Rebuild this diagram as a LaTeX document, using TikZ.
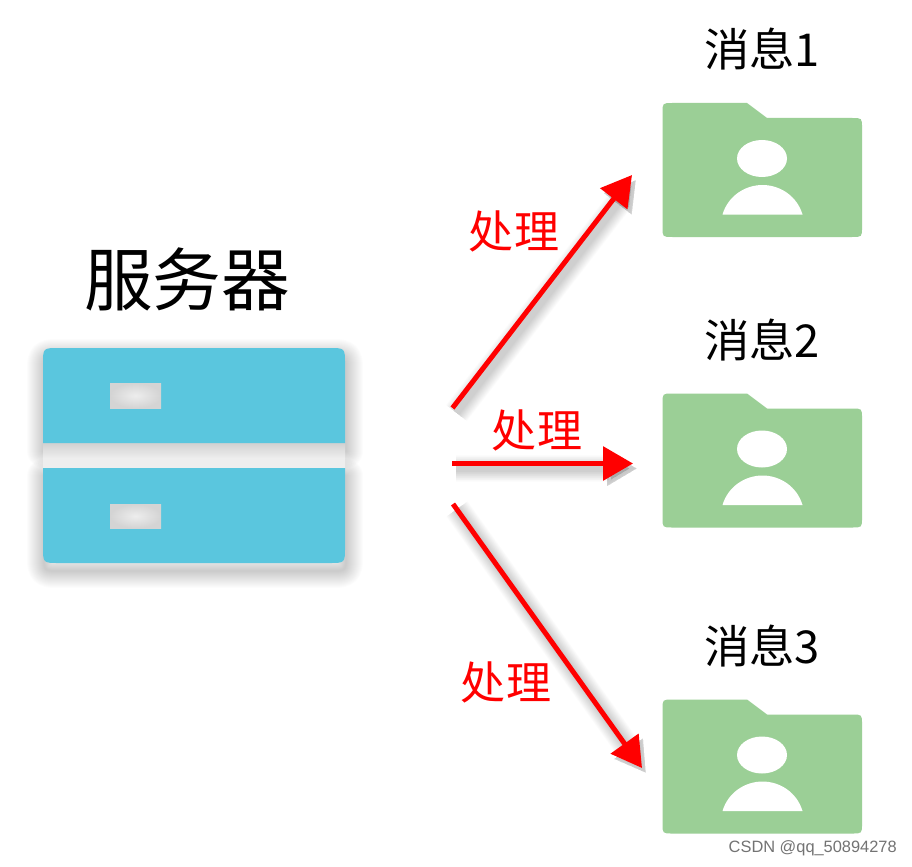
\documentclass[tikz,border=0pt]{standalone}
\usepackage{fontspec}
\newfontfamily\cjk{Noto Sans CJK SC}
\newfontfamily\wm{Liberation Sans}
\usetikzlibrary{arrows.meta,calc}
\definecolor{srv}{HTML}{5AC6DE}
\definecolor{fold}{HTML}{9BCF96}
\definecolor{gapg}{HTML}{EEEEEE}
\tikzset{
  labelbig/.style={font=\cjk\fontsize{51.5}{52}\selectfont,text=black,inner sep=0pt},
  labelmsg/.style={font=\cjk\fontsize{34}{34}\selectfont,text=black,inner sep=0pt},
  labelred/.style={font=\cjk\fontsize{33.8}{34}\selectfont,text=red,inner sep=0pt},
  redarrow/.style={draw=red,line width=3.75pt,-{Triangle[length=22.5pt,width=25pt,fill=red]}},
  softstroke/.style={draw=black,opacity=.012,line join=round},
  holebox/.style={shade,shading=radial,inner color=black!7,outer color=black!17,minimum width=38.25pt,inner sep=0pt},
  foldericon/.pic={
    \fill[fold] (662.5,113) .. controls (662.5,103) .. (672.5,103) -- (747,103) -- (767,118) -- (852,118)
      .. controls (862,118) .. (862,128) -- (862,227)
      .. controls (862,237) .. (852,237) -- (672.5,237)
      .. controls (662.5,237) .. (662.5,227) -- cycle;
    \fill[white] (762,158.5) ellipse[x radius=25,y radius=18.5];
    \fill[white] (722.5,214.5) .. controls (728,196) and (745,185) .. (762.5,185) .. controls (780,185) and (797,196) .. (802.5,214.5) -- cycle;
  }
}
\newcommand{\srvtop}{(43,443) -- (43,364) .. controls (43,348) .. (59,348) -- (329,348) .. controls (345,348) .. (345,364) -- (345,443) -- cycle}
\newcommand{\srvbot}{(43,468) -- (345,468) -- (345,547) .. controls (345,563) .. (329,563) -- (59,563) .. controls (43,563) .. (43,547) -- cycle}
\newcommand{\softarrowset}[2]{%
  \foreach \ww in {0.5,1,...,8}{
    \draw[black,opacity=.01,line width=3.75pt+2*\ww pt,
      -{Triangle[length=22.5pt,width=25pt,fill=black,line width=2*\ww pt]}]
      ($(#1)+(4,5)$) -- ($(#2)+(4,5)$);
  }}
\begin{document}
\begin{tikzpicture}[x=0.75pt,y=-0.75pt]
\useasboundingbox (0,0) rectangle (912,866);
\fill[white] (0,0) rectangle (912,866);

% server shadow
\foreach \w in {2,4,...,34}{
  \begin{scope}[shift={(1,8)}]
    \path[softstroke,line width=\w*0.75pt] \srvtop;
    \path[softstroke,line width=\w*0.75pt] \srvbot;
  \end{scope}
}
\fill[gapg] (43,443) rectangle (345,468);
\shade[top color=black!18,bottom color=gapg] (43,443) rectangle (345,458);
\fill[srv] \srvtop;
\fill[srv] \srvbot;
\node[holebox,minimum height=18.75pt] (holeA) at (135.5,395.5) {};
\node[holebox,minimum height=18pt] (holeB) at (135.5,516) {};

% folders
\pic (f1) at (0,0) {foldericon};
\pic (f2) at (0,290.5) {foldericon};
\pic (f3) at (0,596.5) {foldericon};

% labels
\node[labelbig] (server) at (187,279) {服务器};
\node[labelmsg] (m1) at (762,49.5) {消息1};
\node[labelmsg] (m2) at (762,340.5) {消息2};
\node[labelmsg] (m3) at (762,646.5) {消息3};
\node[labelred] (p1) at (514,231.5) {处理};
\node[labelred] (p2) at (537,430.5) {处理};
\node[labelred] (p3) at (506,682.5) {处理};

% connectors
\coordinate (a1s) at (452.5,408);
\coordinate (a1e) at (632,175);
\coordinate (a2s) at (452,463.5);
\coordinate (a2e) at (633,463.5);
\coordinate (a3s) at (453,504);
\coordinate (a3e) at (642,768);
\softarrowset{a1s}{a1e}
\softarrowset{a2s}{a2e}
\softarrowset{a3s}{a3e}
\draw[redarrow] (a1s) -- (a1e);
\draw[redarrow] (a2s) -- (a2e);
\draw[redarrow] (a3s) -- (a3e);

\node[font=\wm\fontsize{12.3}{13}\selectfont,text=black!55,inner sep=0pt,anchor=east] (wmk) at (897,848) {CSDN @qq\_50894278};
\end{tikzpicture}
\end{document}
